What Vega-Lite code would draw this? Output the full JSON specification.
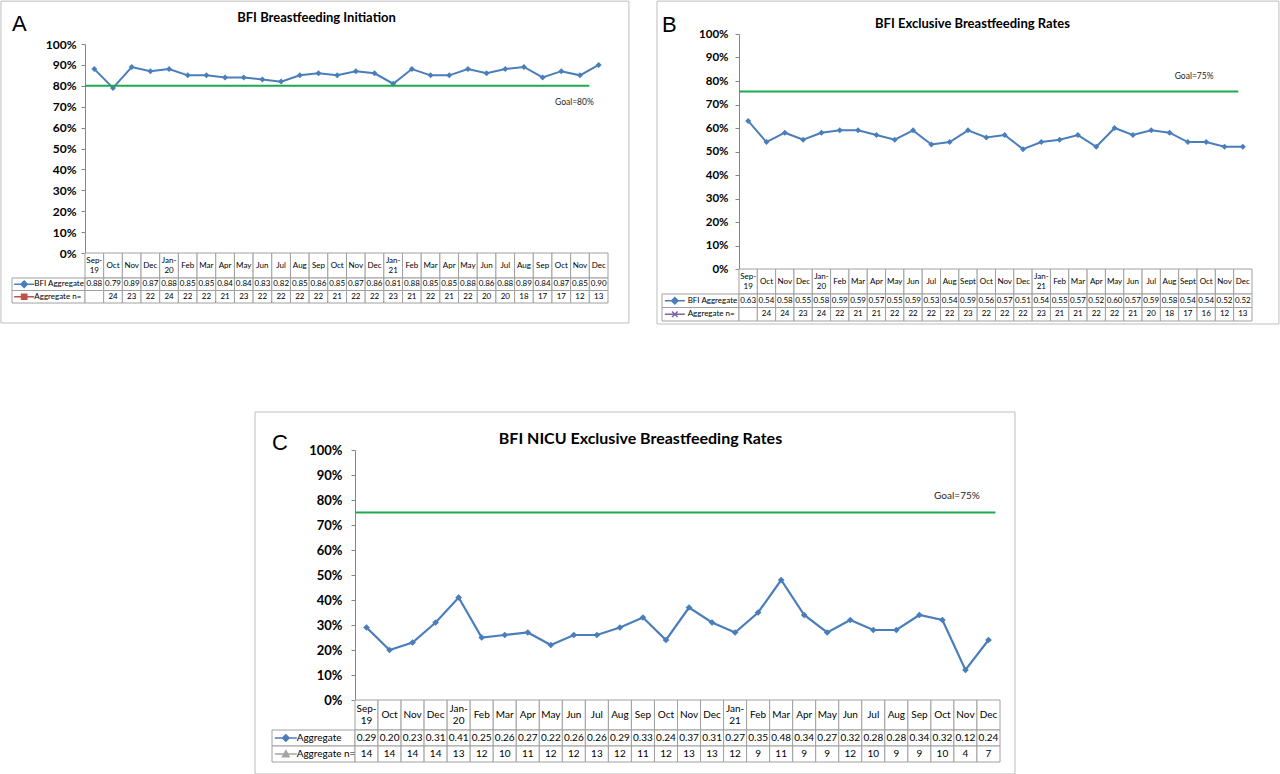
{
  "$schema": "https://vega.github.io/schema/vega-lite/v6.json",
  "background": "white",
  "padding": {"left": 0, "top": 0, "right": 0, "bottom": 0},
  "config": {"view": {"stroke": null}, "font": "Lato"},
  "datasets": {
    "a": [
      {"i": 1, "m": "Sep-\n19", "agg": 0.88},
      {"i": 2, "m": "Oct", "agg": 0.79, "n": 24},
      {"i": 3, "m": "Nov", "agg": 0.89, "n": 23},
      {"i": 4, "m": "Dec", "agg": 0.87, "n": 22},
      {"i": 5, "m": "Jan-\n20", "agg": 0.88, "n": 24},
      {"i": 6, "m": "Feb", "agg": 0.85, "n": 22},
      {"i": 7, "m": "Mar", "agg": 0.85, "n": 22},
      {"i": 8, "m": "Apr", "agg": 0.84, "n": 21},
      {"i": 9, "m": "May", "agg": 0.84, "n": 23},
      {"i": 10, "m": "Jun", "agg": 0.83, "n": 22},
      {"i": 11, "m": "Jul", "agg": 0.82, "n": 22},
      {"i": 12, "m": "Aug", "agg": 0.85, "n": 22},
      {"i": 13, "m": "Sep", "agg": 0.86, "n": 22},
      {"i": 14, "m": "Oct", "agg": 0.85, "n": 21},
      {"i": 15, "m": "Nov", "agg": 0.87, "n": 22},
      {"i": 16, "m": "Dec", "agg": 0.86, "n": 22},
      {"i": 17, "m": "Jan-\n21", "agg": 0.81, "n": 23},
      {"i": 18, "m": "Feb", "agg": 0.88, "n": 21},
      {"i": 19, "m": "Mar", "agg": 0.85, "n": 22},
      {"i": 20, "m": "Apr", "agg": 0.85, "n": 21},
      {"i": 21, "m": "May", "agg": 0.88, "n": 22},
      {"i": 22, "m": "Jun", "agg": 0.86, "n": 20},
      {"i": 23, "m": "Jul", "agg": 0.88, "n": 20},
      {"i": 24, "m": "Aug", "agg": 0.89, "n": 18},
      {"i": 25, "m": "Sep", "agg": 0.84, "n": 17},
      {"i": 26, "m": "Oct", "agg": 0.87, "n": 17},
      {"i": 27, "m": "Nov", "agg": 0.85, "n": 12},
      {"i": 28, "m": "Dec", "agg": 0.90, "n": 13}
    ],
    "b": [
      {"i": 1, "m": "Sep-\n19", "agg": 0.63},
      {"i": 2, "m": "Oct", "agg": 0.54, "n": 24},
      {"i": 3, "m": "Nov", "agg": 0.58, "n": 24},
      {"i": 4, "m": "Dec", "agg": 0.55, "n": 23},
      {"i": 5, "m": "Jan-\n20", "agg": 0.58, "n": 24},
      {"i": 6, "m": "Feb", "agg": 0.59, "n": 22},
      {"i": 7, "m": "Mar", "agg": 0.59, "n": 21},
      {"i": 8, "m": "Apr", "agg": 0.57, "n": 21},
      {"i": 9, "m": "May", "agg": 0.55, "n": 22},
      {"i": 10, "m": "Jun", "agg": 0.59, "n": 22},
      {"i": 11, "m": "Jul", "agg": 0.53, "n": 22},
      {"i": 12, "m": "Aug", "agg": 0.54, "n": 22},
      {"i": 13, "m": "Sept", "agg": 0.59, "n": 23},
      {"i": 14, "m": "Oct", "agg": 0.56, "n": 22},
      {"i": 15, "m": "Nov", "agg": 0.57, "n": 22},
      {"i": 16, "m": "Dec", "agg": 0.51, "n": 22},
      {"i": 17, "m": "Jan-\n21", "agg": 0.54, "n": 23},
      {"i": 18, "m": "Feb", "agg": 0.55, "n": 21},
      {"i": 19, "m": "Mar", "agg": 0.57, "n": 21},
      {"i": 20, "m": "Apr", "agg": 0.52, "n": 22},
      {"i": 21, "m": "May", "agg": 0.60, "n": 22},
      {"i": 22, "m": "Jun", "agg": 0.57, "n": 21},
      {"i": 23, "m": "Jul", "agg": 0.59, "n": 20},
      {"i": 24, "m": "Aug", "agg": 0.58, "n": 18},
      {"i": 25, "m": "Sept", "agg": 0.54, "n": 17},
      {"i": 26, "m": "Oct", "agg": 0.54, "n": 16},
      {"i": 27, "m": "Nov", "agg": 0.52, "n": 12},
      {"i": 28, "m": "Dec", "agg": 0.52, "n": 13}
    ],
    "c": [
      {"i": 1, "m": "Sep-\n19", "agg": 0.29, "n": 14},
      {"i": 2, "m": "Oct", "agg": 0.20, "n": 14},
      {"i": 3, "m": "Nov", "agg": 0.23, "n": 14},
      {"i": 4, "m": "Dec", "agg": 0.31, "n": 14},
      {"i": 5, "m": "Jan-\n20", "agg": 0.41, "n": 13},
      {"i": 6, "m": "Feb", "agg": 0.25, "n": 12},
      {"i": 7, "m": "Mar", "agg": 0.26, "n": 10},
      {"i": 8, "m": "Apr", "agg": 0.27, "n": 11},
      {"i": 9, "m": "May", "agg": 0.22, "n": 12},
      {"i": 10, "m": "Jun", "agg": 0.26, "n": 12},
      {"i": 11, "m": "Jul", "agg": 0.26, "n": 13},
      {"i": 12, "m": "Aug", "agg": 0.29, "n": 12},
      {"i": 13, "m": "Sep", "agg": 0.33, "n": 11},
      {"i": 14, "m": "Oct", "agg": 0.24, "n": 12},
      {"i": 15, "m": "Nov", "agg": 0.37, "n": 13},
      {"i": 16, "m": "Dec", "agg": 0.31, "n": 13},
      {"i": 17, "m": "Jan-\n21", "agg": 0.27, "n": 12},
      {"i": 18, "m": "Feb", "agg": 0.35, "n": 9},
      {"i": 19, "m": "Mar", "agg": 0.48, "n": 11},
      {"i": 20, "m": "Apr", "agg": 0.34, "n": 9},
      {"i": 21, "m": "May", "agg": 0.27, "n": 9},
      {"i": 22, "m": "Jun", "agg": 0.32, "n": 12},
      {"i": 23, "m": "Jul", "agg": 0.28, "n": 10},
      {"i": 24, "m": "Aug", "agg": 0.28, "n": 9},
      {"i": 25, "m": "Sep", "agg": 0.34, "n": 9},
      {"i": 26, "m": "Oct", "agg": 0.32, "n": 10},
      {"i": 27, "m": "Nov", "agg": 0.12, "n": 4},
      {"i": 28, "m": "Dec", "agg": 0.24, "n": 7}
    ],
    "la": [{"row": "BFI Aggregate"}, {"row": "Aggregate n="}],
    "lc": [{"row": "Aggregate"}, {"row": "Aggregate n="}]
  },
  "vconcat": [
    {
      "hconcat": [
        {
          "concat": [
            {"data": {"values": []}, "mark": "point", "width": 73, "height": 10},
            {"data": {"values": []}, "mark": "point", "width": 523, "height": 10},
            {"data": {"values": []}, "mark": "point", "width": 73, "height": 209,
             "title": {"text": "A", "anchor": "start", "font": "Liberation Sans", "fontSize": 22, "fontWeight": "normal", "color": "black", "baseline": "bottom", "offset": -14}},
            {"data": {"name": "a"}, "width": 523, "height": 209,
             "title": {"text": "BFI Breastfeeding Initiation", "anchor": "middle", "frame": "group", "dx": -30, "font": "Lato", "fontSize": 13, "fontWeight": "bold", "color": "black", "baseline": "bottom", "offset": -37},
             "resolve": {"axis": {"y": "independent"}},
             "layer": [
               {"data": {"values": [{}]},
                "mark": {"type": "rect", "filled": false, "stroke": "#BDBDBD", "strokeWidth": 1},
                "encoding": {"x": {"datum": -4.0, "type": "quantitative", "axis": null}, "x2": {"datum": 29.62},
                             "y": {"datum": 1.205, "type": "quantitative", "axis": null}, "y2": {"datum": -0.335}}},
               {"mark": {"type": "line", "color": "#4A7EBB", "strokeWidth": 2, "point": {"shape": "diamond", "size": 36, "filled": true, "color": "#4A7EBB"}},
                "encoding": {
                  "x": {"field": "i", "type": "quantitative", "scale": {"domain": [0.5, 28.5], "nice": false, "zero": false}, "axis": null},
                  "y": {"field": "agg", "type": "quantitative", "scale": {"domain": [0, 1], "nice": false},
                        "axis": {"values": [0, 0.1, 0.2, 0.3, 0.4, 0.5, 0.6, 0.7, 0.8, 0.9, 1], "format": ".0%", "title": null, "grid": false, "orient": "left", "labelFont": "Lato", "labelFontWeight": "bold", "labelFontSize": 12, "labelColor": "black", "labelPadding": 5, "labelFlush": false, "labelOverlap": false, "tickSize": 4, "tickColor": "#868686", "domainColor": "#868686"}}}},
               {"data": {"values": [{}]},
                "mark": {"type": "rule", "color": "#1DAA4F", "strokeWidth": 2},
                "encoding": {"x": {"datum": 0.5, "type": "quantitative", "axis": null}, "x2": {"datum": 27.5},
                             "y": {"datum": 0.8, "type": "quantitative", "axis": null}}},
               {"data": {"values": [{}]},
                "mark": {"type": "text", "text": "Goal=80%", "font": "Lato", "fontSize": 8.5, "color": "#262626", "dy": 16},
                "encoding": {"x": {"datum": 26.7, "type": "quantitative", "axis": null}, "y": {"datum": 0.8, "type": "quantitative", "axis": null}}}
             ]},
            {"data": {"values": []}, "mark": "point", "width": 73, "height": 25},
            {"data": {"name": "a"}, "width": 523, "height": 25,
             "encoding": {"x": {"field": "i", "type": "ordinal", "scale": {"type": "band", "paddingInner": 0, "paddingOuter": 0}, "axis": null}},
             "layer": [
               {"mark": {"type": "rect", "fill": "white", "stroke": "#A0A0A0", "strokeWidth": 1}},
               {"transform": [{"filter": "indexof(datum.m, '\\n') < 0"}],
                "mark": {"type": "text", "font": "Lato", "fontSize": 8, "color": "black"},
                "encoding": {"text": {"field": "m"}}},
               {"transform": [{"filter": "indexof(datum.m, '\\n') >= 0"}],
                "mark": {"type": "text", "font": "Lato", "fontSize": 8, "lineBreak": "\n", "lineHeight": 10, "dy": -5, "color": "black"},
                "encoding": {"text": {"field": "m"}}}
             ]},
            {"data": {"name": "la"}, "width": 73, "height": 25,
             "encoding": {"y": {"field": "row", "type": "nominal", "scale": {"type": "band", "domain": ["BFI Aggregate", "Aggregate n="], "paddingInner": 0, "paddingOuter": 0}, "axis": null}},
             "layer": [
               {"mark": {"type": "rect", "fill": "white", "stroke": "#A0A0A0", "strokeWidth": 1}},
               {"mark": {"type": "point", "filled": true, "size": 400, "strokeWidth": 1.5, "opacity": 1},
                "encoding": {
                  "x": {"datum": "sym", "type": "nominal", "scale": {"type": "band", "domain": ["sym", "lab", "lab2"], "paddingInner": 0, "paddingOuter": 0}, "axis": null},
                  "shape": {"condition": {"test": "datum.row == 'BFI Aggregate'", "value": "M-1,0H1M0,-0.32L0.32,0L0,0.32L-0.32,0Z"}, "value": "M-1,0H1M-0.26,-0.26H0.26V0.26H-0.26Z"},
                  "fill": {"condition": {"test": "datum.row == 'BFI Aggregate'", "value": "#4A7EBB"}, "value": "#C0504D"},
                  "stroke": {"condition": {"test": "datum.row == 'BFI Aggregate'", "value": "#4A7EBB"}, "value": "#C0504D"}}},
               {"mark": {"type": "text", "align": "left", "font": "Lato", "fontSize": 8, "color": "black", "dx": -2},
                "encoding": {"x": {"datum": "lab", "type": "nominal", "bandPosition": 0}, "text": {"field": "row"}}}
             ]},
            {"data": {"name": "a"}, "width": 523, "height": 25,
             "encoding": {"x": {"field": "i", "type": "ordinal", "scale": {"type": "band", "paddingInner": 0, "paddingOuter": 0}, "axis": null}},
             "layer": [
               {"mark": {"type": "rect", "fill": "white", "stroke": "#A0A0A0", "strokeWidth": 1},
                "encoding": {"y": {"datum": "BFI Aggregate", "type": "nominal", "scale": {"type": "band", "domain": ["BFI Aggregate", "Aggregate n="], "paddingInner": 0, "paddingOuter": 0}, "axis": null}}},
               {"mark": {"type": "rect", "fill": "white", "stroke": "#A0A0A0", "strokeWidth": 1},
                "encoding": {"y": {"datum": "Aggregate n=", "type": "nominal"}}},
               {"mark": {"type": "text", "font": "Lato", "fontSize": 8, "color": "black"},
                "encoding": {"y": {"datum": "BFI Aggregate", "type": "nominal"}, "text": {"field": "agg", "type": "quantitative", "format": ".2f"}}},
               {"transform": [{"filter": "isValid(datum.n)"}],
                "mark": {"type": "text", "font": "Lato", "fontSize": 8, "color": "black"},
                "encoding": {"y": {"datum": "Aggregate n=", "type": "nominal"}, "text": {"field": "n", "type": "quantitative", "format": "d"}}}
             ]}
          ],
          "columns": 2, "spacing": 0, "bounds": "flush"
        },
        {
          "concat": [
            {"data": {"values": []}, "mark": "point", "width": 77, "height": 235,
             "title": {"text": "B", "anchor": "start", "font": "Liberation Sans", "fontSize": 22, "fontWeight": "normal", "color": "black", "baseline": "bottom", "offset": -25}},
            {"data": {"name": "b"}, "width": 513, "height": 235,
             "title": {"text": "BFI Exclusive Breastfeeding Rates", "anchor": "middle", "frame": "group", "dx": -23, "font": "Lato", "fontSize": 13, "fontWeight": "bold", "color": "black", "baseline": "bottom", "offset": -43},
             "resolve": {"axis": {"y": "independent"}},
             "layer": [
               {"data": {"values": [{}]},
                "mark": {"type": "rect", "filled": false, "stroke": "#BDBDBD", "strokeWidth": 1},
                "encoding": {"x": {"datum": -3.976, "type": "quantitative", "axis": null}, "x2": {"datum": 29.97},
                             "y": {"datum": 1.14, "type": "quantitative", "axis": null}, "y2": {"datum": -0.234}}},
               {"mark": {"type": "line", "color": "#4A7EBB", "strokeWidth": 2, "point": {"shape": "diamond", "size": 36, "filled": true, "color": "#4A7EBB"}},
                "encoding": {
                  "x": {"field": "i", "type": "quantitative", "scale": {"domain": [0.5, 28.5], "nice": false, "zero": false}, "axis": null},
                  "y": {"field": "agg", "type": "quantitative", "scale": {"domain": [0, 1], "nice": false},
                        "axis": {"values": [0, 0.1, 0.2, 0.3, 0.4, 0.5, 0.6, 0.7, 0.8, 0.9, 1], "format": ".0%", "title": null, "grid": false, "orient": "left", "labelFont": "Lato", "labelFontWeight": "bold", "labelFontSize": 11.5, "labelColor": "black", "labelPadding": 7, "labelFlush": false, "labelOverlap": false, "tickSize": 4, "tickColor": "#868686", "domainColor": "#868686"}}}},
               {"data": {"values": [{}]},
                "mark": {"type": "rule", "color": "#1DAA4F", "strokeWidth": 2},
                "encoding": {"x": {"datum": 0.5, "type": "quantitative", "axis": null}, "x2": {"datum": 27.75},
                             "y": {"datum": 0.755, "type": "quantitative", "axis": null}}},
               {"data": {"values": [{}]},
                "mark": {"type": "text", "text": "Goal=75%", "font": "Lato", "fontSize": 8.5, "color": "#262626", "dy": -16},
                "encoding": {"x": {"datum": 25.34, "type": "quantitative", "axis": null}, "y": {"datum": 0.755, "type": "quantitative", "axis": null}}}
             ]},
            {"data": {"values": []}, "mark": "point", "width": 77, "height": 25},
            {"data": {"name": "b"}, "width": 513, "height": 25,
             "encoding": {"x": {"field": "i", "type": "ordinal", "scale": {"type": "band", "paddingInner": 0, "paddingOuter": 0}, "axis": null}},
             "layer": [
               {"mark": {"type": "rect", "fill": "white", "stroke": "#A0A0A0", "strokeWidth": 1}},
               {"transform": [{"filter": "indexof(datum.m, '\\n') < 0"}],
                "mark": {"type": "text", "font": "Lato", "fontSize": 8, "color": "black"},
                "encoding": {"text": {"field": "m"}}},
               {"transform": [{"filter": "indexof(datum.m, '\\n') >= 0"}],
                "mark": {"type": "text", "font": "Lato", "fontSize": 8, "lineBreak": "\n", "lineHeight": 10, "dy": -5, "color": "black"},
                "encoding": {"text": {"field": "m"}}}
             ]},
            {"data": {"name": "la"}, "width": 77, "height": 27,
             "encoding": {"y": {"field": "row", "type": "nominal", "scale": {"type": "band", "domain": ["BFI Aggregate", "Aggregate n="], "paddingInner": 0, "paddingOuter": 0}, "axis": null}},
             "layer": [
               {"mark": {"type": "rect", "fill": "white", "stroke": "#A0A0A0", "strokeWidth": 1}},
               {"mark": {"type": "point", "filled": true, "size": 400, "strokeWidth": 1.5, "opacity": 1},
                "encoding": {
                  "x": {"datum": "sym", "type": "nominal", "scale": {"type": "band", "domain": ["sym", "lab", "lab2"], "paddingInner": 0, "paddingOuter": 0}, "axis": null},
                  "shape": {"condition": {"test": "datum.row == 'BFI Aggregate'", "value": "M-1,0H1M0,-0.32L0.32,0L0,0.32L-0.32,0Z"}, "value": "M-1,0H1M-0.28,-0.28L0.28,0.28M-0.28,0.28L0.28,-0.28"},
                  "fill": {"condition": {"test": "datum.row == 'BFI Aggregate'", "value": "#4A7EBB"}, "value": "#8064A2"},
                  "stroke": {"condition": {"test": "datum.row == 'BFI Aggregate'", "value": "#4A7EBB"}, "value": "#8064A2"}}},
               {"mark": {"type": "text", "align": "left", "font": "Lato", "fontSize": 8, "color": "black", "dx": 0},
                "encoding": {"x": {"datum": "lab", "type": "nominal", "bandPosition": 0}, "text": {"field": "row"}}}
             ]},
            {"data": {"name": "b"}, "width": 513, "height": 27,
             "encoding": {"x": {"field": "i", "type": "ordinal", "scale": {"type": "band", "paddingInner": 0, "paddingOuter": 0}, "axis": null}},
             "layer": [
               {"mark": {"type": "rect", "fill": "white", "stroke": "#A0A0A0", "strokeWidth": 1},
                "encoding": {"y": {"datum": "BFI Aggregate", "type": "nominal", "scale": {"type": "band", "domain": ["BFI Aggregate", "Aggregate n="], "paddingInner": 0, "paddingOuter": 0}, "axis": null}}},
               {"mark": {"type": "rect", "fill": "white", "stroke": "#A0A0A0", "strokeWidth": 1},
                "encoding": {"y": {"datum": "Aggregate n=", "type": "nominal"}}},
               {"mark": {"type": "text", "font": "Lato", "fontSize": 8, "color": "black"},
                "encoding": {"y": {"datum": "BFI Aggregate", "type": "nominal"}, "text": {"field": "agg", "type": "quantitative", "format": ".2f"}}},
               {"transform": [{"filter": "isValid(datum.n)"}],
                "mark": {"type": "text", "font": "Lato", "fontSize": 8, "color": "black"},
                "encoding": {"y": {"datum": "Aggregate n=", "type": "nominal"}, "text": {"field": "n", "type": "quantitative", "format": "d"}}}
             ]}
          ],
          "columns": 2, "spacing": 0, "bounds": "flush"
        }
      ],
      "spacing": 26
    },
    {
      "hconcat": [
        {"data": {"values": []}, "mark": "point", "width": 241.5, "height": 10, "view": {"fill": "white"}},
        {
          "concat": [
            {"data": {"values": []}, "mark": "point", "width": 83, "height": 250,
             "title": {"text": "C", "anchor": "start", "font": "Liberation Sans", "fontSize": 22, "fontWeight": "normal", "color": "black", "baseline": "bottom", "offset": -27}},
            {"data": {"name": "c"}, "width": 645, "height": 250,
             "title": {"text": "BFI NICU Exclusive Breastfeeding Rates", "anchor": "middle", "frame": "group", "dx": -37, "font": "Lato", "fontSize": 16, "fontWeight": "bold", "color": "black", "baseline": "bottom", "offset": -51.5},
             "resolve": {"axis": {"y": "independent"}},
             "layer": [
               {"data": {"values": [{}]},
                "mark": {"type": "rect", "filled": false, "stroke": "#BDBDBD", "strokeWidth": 1},
                "encoding": {"x": {"datum": -3.84, "type": "quantitative", "axis": null}, "x2": {"datum": 29.15},
                             "y": {"datum": 1.152, "type": "quantitative", "axis": null}, "y2": {"datum": -0.296}}},
               {"mark": {"type": "line", "color": "#4A7EBB", "strokeWidth": 2.2, "point": {"shape": "diamond", "size": 45, "filled": true, "color": "#4A7EBB"}},
                "encoding": {
                  "x": {"field": "i", "type": "quantitative", "scale": {"domain": [0.5, 28.5], "nice": false, "zero": false}, "axis": null},
                  "y": {"field": "agg", "type": "quantitative", "scale": {"domain": [0, 1], "nice": false},
                        "axis": {"values": [0, 0.1, 0.2, 0.3, 0.4, 0.5, 0.6, 0.7, 0.8, 0.9, 1], "format": ".0%", "title": null, "grid": false, "orient": "left", "labelFont": "Lato", "labelFontWeight": "bold", "labelFontSize": 13, "labelColor": "black", "labelPadding": 9, "labelFlush": false, "labelOverlap": false, "tickSize": 4, "tickColor": "#868686", "domainColor": "#868686"}}}},
               {"data": {"values": [{}]},
                "mark": {"type": "rule", "color": "#1DAA4F", "strokeWidth": 2},
                "encoding": {"x": {"datum": 0.5, "type": "quantitative", "axis": null}, "x2": {"datum": 28.3},
                             "y": {"datum": 0.75, "type": "quantitative", "axis": null}}},
               {"data": {"values": [{}]},
                "mark": {"type": "text", "text": "Goal=75%", "font": "Lato", "fontSize": 10, "color": "#262626", "dy": -17},
                "encoding": {"x": {"datum": 26.63, "type": "quantitative", "axis": null}, "y": {"datum": 0.75, "type": "quantitative", "axis": null}}}
             ]},
            {"data": {"values": []}, "mark": "point", "width": 83, "height": 30},
            {"data": {"name": "c"}, "width": 645, "height": 30,
             "encoding": {"x": {"field": "i", "type": "ordinal", "scale": {"type": "band", "paddingInner": 0, "paddingOuter": 0}, "axis": null}},
             "layer": [
               {"mark": {"type": "rect", "fill": "white", "stroke": "#A0A0A0", "strokeWidth": 1}},
               {"transform": [{"filter": "indexof(datum.m, '\\n') < 0"}],
                "mark": {"type": "text", "font": "Lato", "fontSize": 10, "color": "black"},
                "encoding": {"text": {"field": "m"}}},
               {"transform": [{"filter": "indexof(datum.m, '\\n') >= 0"}],
                "mark": {"type": "text", "font": "Lato", "fontSize": 10, "lineBreak": "\n", "lineHeight": 12, "dy": -6, "color": "black"},
                "encoding": {"text": {"field": "m"}}}
             ]},
            {"data": {"name": "lc"}, "width": 83, "height": 32,
             "encoding": {"y": {"field": "row", "type": "nominal", "scale": {"type": "band", "domain": ["Aggregate", "Aggregate n="], "paddingInner": 0, "paddingOuter": 0}, "axis": null}},
             "layer": [
               {"mark": {"type": "rect", "fill": "white", "stroke": "#A0A0A0", "strokeWidth": 1}},
               {"mark": {"type": "point", "filled": true, "size": 484, "strokeWidth": 1.5, "opacity": 1},
                "encoding": {
                  "x": {"datum": "sym", "type": "nominal", "scale": {"type": "band", "domain": ["sym", "lab", "lab2"], "paddingInner": 0, "paddingOuter": 0}, "axis": null},
                  "shape": {"condition": {"test": "datum.row == 'Aggregate'", "value": "M-1,0H1M0,-0.3L0.3,0L0,0.3L-0.3,0Z"}, "value": "M-1,0H1M0,-0.3L0.3,0.24H-0.3Z"},
                  "fill": {"condition": {"test": "datum.row == 'Aggregate'", "value": "#4A7EBB"}, "value": "#A5A5A5"},
                  "stroke": {"condition": {"test": "datum.row == 'Aggregate'", "value": "#4A7EBB"}, "value": "#A5A5A5"}}},
               {"mark": {"type": "text", "align": "left", "font": "Lato", "fontSize": 10, "color": "black", "dx": -3},
                "encoding": {"x": {"datum": "lab", "type": "nominal", "bandPosition": 0}, "text": {"field": "row"}}}
             ]},
            {"data": {"name": "c"}, "width": 645, "height": 32,
             "encoding": {"x": {"field": "i", "type": "ordinal", "scale": {"type": "band", "paddingInner": 0, "paddingOuter": 0}, "axis": null}},
             "layer": [
               {"mark": {"type": "rect", "fill": "white", "stroke": "#A0A0A0", "strokeWidth": 1},
                "encoding": {"y": {"datum": "Aggregate", "type": "nominal", "scale": {"type": "band", "domain": ["Aggregate", "Aggregate n="], "paddingInner": 0, "paddingOuter": 0}, "axis": null}}},
               {"mark": {"type": "rect", "fill": "white", "stroke": "#A0A0A0", "strokeWidth": 1},
                "encoding": {"y": {"datum": "Aggregate n=", "type": "nominal"}}},
               {"mark": {"type": "text", "font": "Lato", "fontSize": 10, "color": "black"},
                "encoding": {"y": {"datum": "Aggregate", "type": "nominal"}, "text": {"field": "agg", "type": "quantitative", "format": ".2f"}}},
               {"mark": {"type": "text", "font": "Lato", "fontSize": 10, "color": "black"},
                "encoding": {"y": {"datum": "Aggregate n=", "type": "nominal"}, "text": {"field": "n", "type": "quantitative", "format": "d"}}}
             ]}
          ],
          "columns": 2, "spacing": 0, "bounds": "flush"
        }
      ],
      "spacing": 0
    }
  ],
  "spacing": 86
}
